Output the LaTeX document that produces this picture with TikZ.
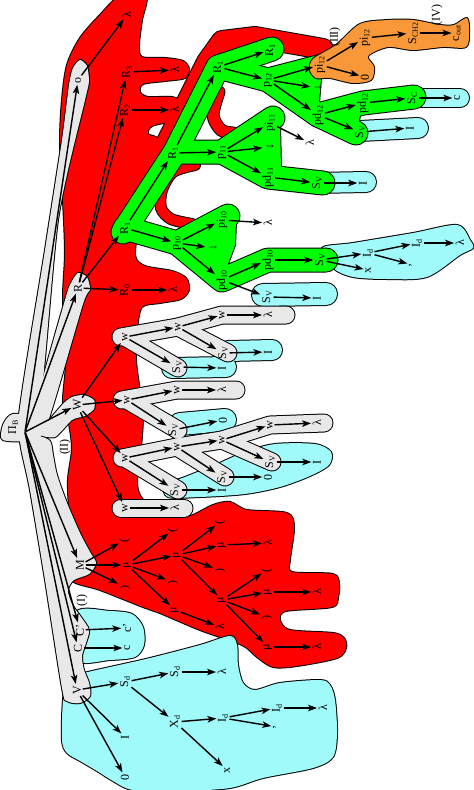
\documentclass[tikz,border=0pt]{standalone}
\usepackage{fontspec}
\setmainfont{Liberation Serif}
\usetikzlibrary{arrows.meta}
\definecolor{redc}{RGB}{255,0,0}
\definecolor{greenc}{RGB}{0,255,0}
\definecolor{cyanc}{RGB}{160,250,250}
\definecolor{greyc}{RGB}{232,232,232}
\definecolor{orangec}{RGB}{248,152,56}
\newcommand\lbl{\fontsize{12}{14}\selectfont}
\newcommand\sbs[1]{\textsubscript{#1}}

% ---------- regions: #1 polygon style, #2 stroke colour, #3 extra width
\newcommand\redR[3]{%
 \path[#1] plot[smooth cycle, tension=0.5] coordinates {(120,-4) (146,-4) (142,20) (139,45) (142,57) (165,58) (183,61) (189,69) (185,78) (165,81) (143,84) (140,92) (148,97) (172,97) (183,103) (184,114) (172,121) (152,126) (148,134) (160,142) (150,180) (140,220) (135,255) (145,266) (172,271) (186,278) (189,290) (181,299) (160,303) (142,307) (137,330) (136,360) (139,385) (143,413) (141,447) (137,480) (141,497) (160,513) (187,517) (213,505) (230,502) (247,510) (287,513) (294,527) (290,560) (292,572) (333,574) (339,584) (338,597) (332,607) (286,611) (280,620) (290,630) (333,633) (344,638) (346,648) (337,658) (297,666) (273,667) (257,657) (242,645) (200,630) (160,613) (143,607) (100,590) (73,581) (86,565) (79,540) (70,513) (68,480) (72,447) (67,413) (63,400) (67,350) (63,300) (65,250) (62,180) (60,140) (62,100) (67,65) (80,38) (100,15)};
 \draw[#2, line width=20pt+#3, line cap=round, line join=round] (113,230)--(163,150)--(207,62)--(222,41)--(255,37)--(323,49);
 \draw[#2, line width=11pt+#3, line cap=round] plot[smooth] coordinates {(219,92) (213,115) (221,130) (233,133)};
 \draw[#2, line width=10pt+#3, line cap=round] plot[smooth] coordinates {(195,165) (173,172) (162,190) (161,208) (171,219) (192,224)};
}
\newcommand\cyanR[3]{%
 \path[#1] plot[smooth cycle, tension=0.5] coordinates {(165,485) (185,477) (215,465) (245,452) (275,444) (315,444) (331,452) (329,465) (310,476) (280,487) (245,494) (200,497) (168,497)};
 \path[#1] plot[smooth cycle, tension=0.5] coordinates {(322,248) (353,243) (413,233) (457,225) (470,240) (473,248) (460,255) (427,277) (387,279) (353,277) (333,268)};
 \path[#1] plot[smooth cycle, tension=0.5] coordinates {(76,612) (110,611) (132,614) (143,627) (144,645) (135,657) (110,660) (76,660)};
 \path[#1] plot[smooth cycle, tension=0.5] coordinates {(63,700) (68,678) (88,672) (110,667) (150,658) (200,645) (230,636) (237,645) (238,665) (243,683) (255,690) (280,683) (320,680) (330,685) (335,700) (337,733) (333,757) (313,768) (263,778) (230,788) (180,791) (133,790) (113,781) (97,771) (80,761) (67,753) (62,740)};
 \draw[#2, line width=20pt+#3, line cap=round] (172,368)--(226,367);
 \draw[#2, line width=20pt+#3, line cap=round] (228,351)--(272,350);
 \draw[#2, line width=22pt+#3, line cap=round] (180,424)--(225,420);
 \draw[#2, line width=20pt+#3, line cap=round] (314,183)--(366,182);
 \draw[#2, line width=20pt+#3, line cap=round] (360,131)--(418,128);
 \draw[#2, line width=18pt+#3, line cap=round] (412,98)--(460,98);
 \draw[#2, line width=22pt+#3, line cap=round] (263,295)--(326,294);
}
\newcommand\greenR[3]{%
 \draw[#2, line width=23pt+#3, line cap=round, line join=round] (123,232)--(175,152)--(218,67)--(272,49);
 \draw[#2, line width=23pt+#3, line cap=round, line join=round] (125,228)--(177,243)--(228,216);
 \draw[#2, line width=23pt+#3, line cap=round, line join=round] (177,243)--(222,280)--(268,260)--(326,260);
 \draw[#2, line width=23pt+#3, line cap=round, line join=round] (175,152)--(222,152)--(273,118);
 \draw[#2, line width=23pt+#3, line cap=round, line join=round] (222,152)--(268,177)--(323,183);
 \draw[#2, line width=23pt+#3, line cap=round, line join=round] (218,67)--(268,80)--(322,66);
 \draw[#2, line width=23pt+#3, line cap=round, line join=round] (268,80)--(318,115)--(363,103)--(414,97);
 \draw[#2, line width=23pt+#3, line cap=round, line join=round] (318,115)--(356,133);
 \path[#1] (177,243)--(226,214)--(236,222)--(235,245)--(222,280)--cycle;
 \path[#1] (222,152)--(272,116)--(280,126)--(281,168)--(268,177)--cycle;
 \path[#1] (268,80)--(322,66)--(318,115)--cycle;
 \path[#1] (318,115)--(363,103)--(356,133)--cycle;
}
\newcommand\orangeR[3]{%
 \path[#1] plot[smooth cycle, tension=0.5] coordinates {(310,70) (313,59) (336,45) (360,24) (388,20) (413,20) (440,25) (454,25) (467,18) (469,32) (466,47) (443,47) (413,50) (388,47) (368,56) (374,67) (371,80) (353,83) (330,78) (316,78)};
}
\newcommand\greyR[3]{%
 \path[#1] plot[smooth cycle, tension=0.5] coordinates {(20,437) (38,436) (50,441) (53,455) (57,475) (67,503) (80,533) (90,552) (96,563) (89,574) (74,580) (68,590) (72,604) (81,617) (89,630) (86,643) (82,656) (84,670) (89,683) (90,696) (80,703) (67,701) (62,688) (45,580) (30,490)};
 \path[#1] plot[smooth cycle, tension=0.5] coordinates {(3,440) (2,428) (7,418) (13,414) (21,415) (26,425) (28,440)};
 \path[#1] plot[smooth cycle, tension=0.4] coordinates {(18,425) (45,250) (62,140) (69,85) (73,68) (80,60) (87,66) (89,82) (85,100) (58,220) (38,425)};
 \path[#1] plot[smooth cycle, tension=0.4] coordinates {(30,428) (65,300) (71,283) (78,273) (87,277) (90,290) (83,304) (45,430)};
 \path[#1] plot[smooth cycle, tension=0.4] coordinates {(40,433) (62,405) (72,397) (84,395) (94,400) (94,409) (85,416) (72,420) (55,437)};
 \draw[#2, line width=17pt+#3, line cap=round, line join=round] (121,337)--(178,327)--(222,315)--(286,315);
 \draw[#2, line width=17pt+#3, line cap=round, line join=round] (125,337)--(178,368);
 \draw[#2, line width=17pt+#3, line cap=round, line join=round] (178,327)--(228,353);
 \draw[#2, line width=17pt+#3, line cap=round, line join=round] (122,400)--(177,390)--(236,390);
 \draw[#2, line width=17pt+#3, line cap=round, line join=round] (127,400)--(178,430);
 \draw[#2, line width=17pt+#3, line cap=round, line join=round] (122,458)--(177,447)--(222,440)--(270,425)--(324,423);
 \draw[#2, line width=17pt+#3, line cap=round, line join=round] (177,447)--(225,477);
 \draw[#2, line width=17pt+#3, line cap=round, line join=round] (222,440)--(272,462);
 \draw[#2, line width=17pt+#3, line cap=round, line join=round] (125,458)--(178,490);
 \draw[#2, line width=17pt+#3, line cap=round, line join=round] (121,508)--(184,508);
}
\tikzset{
 lab/.style={rotate=90, inner sep=1pt, font=\lbl},
 flat/.style={inner sep=1pt, font=\lbl},
 arr/.style={-{Stealth[length=9pt,width=6.5pt,inset=2.2pt]}, line width=1.4pt, shorten <=0.5pt, shorten >=0.5pt},
 olp/.style={draw=black, line width=2pt, line join=round},
}
\begin{document}
\begin{tikzpicture}[x=1pt,y=-1pt]
\useasboundingbox (0,0) rectangle (474,790);
\fill[white] (0,0) rectangle (474,790);
% regions (outline pass, then fill pass)
\redR{olp}{black}{2pt}
\redR{fill=redc}{redc}{0pt}
\cyanR{olp}{black}{2pt}
\cyanR{fill=cyanc}{cyanc}{0pt}
\greenR{olp}{black}{2pt}
\greenR{fill=greenc}{greenc}{0pt}
\orangeR{olp}{black}{2pt}
\orangeR{fill=orangec}{orangec}{0pt}
\greyR{olp}{black}{2pt}
\greyR{fill=greyc}{greyc}{0pt}

% ---------- labels
\node[lab] (PiB) at (13,427) {Π\sbs{B}};
\coordinate (rt) at (25,432);
\node[lab] (o0) at (78,80) {o};
\node[lab] (l0) at (127,15) {λ};
\node[lab] (R) at (78,288) {R};
\node[lab] (R0) at (125,290) {R\sbs{0}};
\node[lab] (lR0) at (173,290) {λ};
\node[lab] (R1a) at (125,228) {R\sbs{1}};
\node[lab] (R2) at (125,110) {R\sbs{2}};
\node[lab] (lR2) at (175,110) {λ};
\node[lab] (R3) at (127,72) {R\sbs{3}};
\node[lab] (lR3) at (175,70) {λ};
\node[lab] (R1b) at (173,153) {R\sbs{1}};
\node[lab] (p11) at (222,152) {p\sbs{11}};
\node[lab] (pi11) at (270,123) {pi\sbs{11}};
\node[flat] (a11) at (270,147) {→};
\node[lab] (pd11) at (268,177) {pd\sbs{11}};
\node[lab] (l11) at (310,143) {λ};
\node[lab] (Sv11) at (317,183) {S\sbs{V}};
\node[lab] (I11) at (363,183) {I};
\node[lab] (R1c) at (218,67) {R\sbs{1}};
\node[lab] (R1d) at (270,50) {R\sbs{1}};
\node[lab] (p12) at (268,80) {p\sbs{12}};
\node[lab] (pi12) at (320,65) {pi\sbs{12}};
\node[flat] (a12) at (318,88) {→};
\node[lab] (pd12) at (318,115) {pd\sbs{12}};
\node[lab] (pd12b) at (363,103) {pd\sbs{12}};
\node[lab] (Sv12) at (360,132) {S\sbs{V}};
\node[lab] (I12) at (410,128) {I};
\node[lab] (Sc) at (412,98) {S\sbs{C}};
\node[lab] (c12) at (457,98) {c};
\node[lab] (pi12b) at (365,38) {pi\sbs{12}};
\node[lab] (z12) at (365,77) {0};
\node[lab] (Sch) at (413,33) {S\sbs{CH2}};
\node[lab] (cout) at (457,33) {c\sbs{out}};
\node[lab] (III) at (335,37) {(III)};
\node[lab] (IV) at (437,15) {(IV)};
\node[lab] (p10) at (177,243) {p\sbs{10}};
\node[lab] (pi10) at (222,220) {pi\sbs{10}};
\node[flat] (a10) at (213,248) {→};
\node[lab] (pd10) at (222,280) {pd\sbs{10}};
\node[lab] (l10) at (268,223) {λ};
\node[lab] (pd10b) at (268,260) {pd\sbs{10}};
\node[lab] (Sv10) at (320,260) {S\sbs{V}};
\node[lab] (Id10) at (368,253) {I\sbs{d}};
\node[lab] (x10) at (368,270) {x};
\node[lab] (Id10b) at (417,243) {I\sbs{d}};
\node[lab] (q10) at (413,265) {'};
\node[lab] (l10b) at (460,243) {λ};
\node[lab] (Sv10b) at (267,297) {S\sbs{V}};
\node[lab] (I10b) at (317,298) {I};
% W
\node[lab] (W) at (77,405) {W};
\node[lab] (Wa) at (125,337) {w};
\node[lab] (wa1) at (178,327) {w};
\node[lab] (wa2) at (222,315) {w};
\node[lab] (lwa) at (268,315) {λ};
\node[lab] (Sva1) at (177,367) {S\sbs{V}};
\node[lab] (Iwa1) at (222,368) {I};
\node[lab] (Sva2) at (223,353) {S\sbs{V}};
\node[lab] (Iwa2) at (268,352) {I};
\node[lab] (wb) at (127,400) {w};
\node[lab] (wb1) at (177,390) {w};
\node[lab] (lwb) at (222,390) {λ};
\node[lab] (Svb) at (173,430) {S\sbs{V}};
\node[lab] (zb) at (223,420) {0};
\node[lab] (wc) at (125,458) {w};
\node[lab] (wc1) at (177,447) {w};
\node[lab] (Svc1) at (175,490) {S\sbs{V}};
\node[lab] (Ic1) at (222,490) {I};
\node[lab] (wc2) at (222,440) {w};
\node[lab] (Svc2) at (222,477) {S\sbs{V}};
\node[lab] (zc2) at (268,477) {0};
\node[lab] (wc3) at (270,425) {w};
\node[lab] (lc3) at (317,423) {λ};
\node[lab] (Svc3) at (270,462) {S\sbs{V}};
\node[lab] (Ic3) at (317,462) {I};
\node[lab] (wd) at (125,508) {w};
\node[lab] (ld) at (175,508) {λ};
% M
\node[lab] (M) at (80,565) {M};
\node[lab] (pa1) at (125,540) {(};
\node[lab] (mu1) at (127,565) {μ};
\node[lab] (pa2) at (125,587) {)};
\node[lab] (pa3) at (173,530) {(};
\node[lab] (mu2) at (177,555) {μ};
\node[lab] (pa4) at (173,582) {)};
\node[lab] (mu3) at (175,610) {μ};
\node[lab] (pa5) at (220,522) {(};
\node[lab] (mu4) at (222,545) {μ};
\node[lab] (pa6) at (220,570) {)};
\node[lab] (mu5) at (222,600) {μ};
\node[lab] (lmu4) at (268,543) {λ};
\node[lab] (lmu3) at (220,627) {λ};
\node[lab] (pa7) at (267,570) {(};
\node[lab] (mu6) at (268,592) {μ};
\node[lab] (pa8) at (267,617) {)};
\node[lab] (mu7) at (268,647) {μ};
\node[lab] (lmu6) at (317,592) {λ};
\node[lab] (lmu7) at (317,647) {λ};
% C, V
\node[lab] (Cp) at (80,630) {C'};
\node[lab] (Cc) at (78,648) {C};
\node[lab] (cp) at (127,628) {c'};
\node[lab] (cc) at (127,648) {c};
\node[lab] (LI) at (82,600) {(I)};
\node[lab] (LII) at (65,447) {(II)};
\node[lab] (V) at (77,690) {V};
\node[lab] (Sd1) at (125,682) {S\sbs{d}};
\node[lab] (IV0) at (125,737) {I};
\node[lab] (zV) at (125,777) {0};
\node[lab] (Sd2) at (175,672) {S\sbs{d}};
\node[lab] (Xd) at (175,722) {X\sbs{d}};
\node[lab] (lSd) at (222,672) {λ};
\node[lab] (Id1) at (223,718) {I\sbs{d}};
\node[lab] (xV) at (227,770) {x};
\node[lab] (Id2) at (277,708) {I\sbs{d}};
\node[lab] (qV) at (277,727) {'};
\node[lab] (lId) at (323,708) {λ};

% ---------- connectors
\foreach \a/\b in {rt/o0, rt/R, rt/W, rt/M, rt/Cp, rt/Cc, rt/V, o0/l0,
  R/R3, R/R2, R/R1a, R/R0, R0/lR0, R2/lR2, R3/lR3,
  R1a/R1b, R1a/p10, R1b/R1c, R1b/p11, R1c/R1d, R1c/p12,
  p12/pi12, p12/a12, p12/pd12, pi12/pi12b, pi12/z12, pi12b/Sch, Sch/cout,
  pd12/pd12b, pd12/Sv12, pd12b/Sc, Sc/c12, Sv12/I12,
  p11/pi11, p11/a11, p11/pd11, pi11/l11, pd11/Sv11, Sv11/I11,
  p10/pi10, p10/a10, p10/pd10, pi10/l10, pd10/pd10b, pd10/Sv10b, pd10b/Sv10,
  Sv10/Id10, Sv10/x10, Id10/Id10b, Id10/q10, Id10b/l10b, Sv10b/I10b,
  W/Wa, W/wb, W/wc, W/wd,
  Wa/wa1, Wa/Sva1, wa1/wa2, wa1/Sva2, wa2/lwa, Sva1/Iwa1, Sva2/Iwa2,
  wb/wb1, wb/Svb, wb1/lwb, Svb/zb,
  wc/wc1, wc/Svc1, Svc1/Ic1, wc1/wc2, wc1/Svc2, Svc2/zc2, wc2/wc3, wc2/Svc3, wc3/lc3, Svc3/Ic3,
  wd/ld,
  M/pa1, M/mu1, M/pa2,
  mu1/pa3, mu1/mu2, mu1/pa4, mu1/mu3,
  mu2/pa5, mu2/mu4, mu2/pa6, mu2/mu5,
  mu4/lmu4, mu3/lmu3,
  mu5/pa7, mu5/mu6, mu5/pa8, mu5/mu7, mu6/lmu6, mu7/lmu7,
  Cp/cp, Cc/cc,
  V/Sd1, V/IV0, V/zV, Sd1/Sd2, Sd1/Xd, Sd2/lSd,
  Xd/Id1, Xd/xV, Id1/Id2, Id1/qV, Id2/lId}
  \draw[arr] (\a) -- (\b);
\end{tikzpicture}
\end{document}
